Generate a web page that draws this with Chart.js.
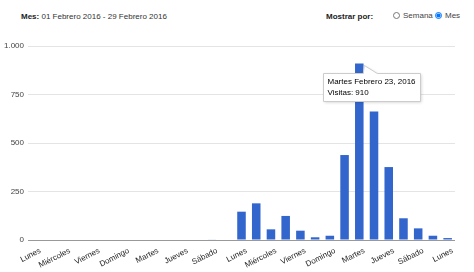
<!DOCTYPE html>
<html>
<head>
<meta charset="utf-8">
<script src="https://cdn.jsdelivr.net/npm/chart.js@4/dist/chart.umd.min.js"></script>
<style>
  body { margin: 0; width: 474px; height: 272px; background: #fff; font-family: 'Liberation Sans', Arial, sans-serif; overflow: hidden; }
  .head { position: absolute; top: 12px; font-size: 8px; color: #333; white-space: nowrap; }
  .head b { color: #222; }
  .radio { position: absolute; top: 11px; font-size: 8px; color: #444; display: flex; align-items: center; white-space: nowrap; }
  .radio input { width: 7px; height: 7px; margin: 0 3px 0 0; }
  #wrap { position: absolute; left: 0; top: 30px; width: 474px; height: 242px; }
</style>
</head>
<body>
<div class="head" style="left:21px"><b>Mes:</b> 01 Febrero 2016 - 29 Febrero 2016</div>
<div class="head" style="left:326px"><b>Mostrar por:</b></div>
<div class="radio" style="left:393px"><input type="radio" name="p">Semana</div>
<div class="radio" style="left:435px"><input type="radio" name="p" checked>Mes</div>
<div id="wrap"><canvas id="c"></canvas></div>
<script>
'use strict';

// ── Data: February 2016, one bar per day ──
const dayNames = ['Lunes', 'Martes', 'Miércoles', 'Jueves', 'Viernes', 'Sábado', 'Domingo'];
const days = Array.from({ length: 29 }, (_, i) => i + 1);
const visits = [
  0, 0, 0, 0, 0, 0, 0, 0, 0, 0, 0, 0, 3, 0,
  146, 189, 55, 124, 48, 14, 22, 438, 910, 663, 376, 112, 60, 22, 10
];
const yTicks = [0, 250, 500, 750, 1000];
const highlightIndex = 22;

const labels = days.map((d, i) => dayNames[i % 7]);
const FONT = "'Liberation Sans', Arial, sans-serif";

// ── Google-style tooltip drawn next to the highlighted bar ──
const fixedTip = {
  id: 'fixedTip',
  afterDraw(chart) {
    const bar = chart.getDatasetMeta(0).data[highlightIndex];
    if (!bar) return;
    const ctx = chart.ctx;
    const d = days[highlightIndex];
    const line1 = dayNames[highlightIndex % 7] + ' Febrero ' + d + ', 2016';
    const line2 = 'Visitas: ' + visits[highlightIndex];
    const x = Math.round(bar.x - 36) + 0.5, y = Math.round(bar.y + 10) + 0.5, w = 97, h = 28;
    ctx.save();
    ctx.shadowColor = 'rgba(0,0,0,0.18)';
    ctx.shadowBlur = 3;
    ctx.shadowOffsetX = 1;
    ctx.shadowOffsetY = 1;
    ctx.fillStyle = '#fff';
    ctx.beginPath();
    ctx.moveTo(x, y);
    ctx.lineTo(bar.x + 4, y);
    ctx.lineTo(bar.x + 5, bar.y + 2);
    ctx.lineTo(bar.x + 18, y);
    ctx.lineTo(x + w, y);
    ctx.lineTo(x + w, y + h);
    ctx.lineTo(x, y + h);
    ctx.closePath();
    ctx.fill();
    ctx.shadowColor = 'transparent';
    ctx.strokeStyle = '#cccccc';
    ctx.lineWidth = 1;
    ctx.stroke();
    ctx.fillStyle = '#000';
    ctx.font = '8px ' + FONT;
    ctx.textBaseline = 'middle';
    ctx.fillText(line1, x + 4, y + 8);
    ctx.fillText(line2, x + 4, y + 19);
    ctx.restore();
  }
};

new Chart(document.getElementById('c'), {
  type: 'bar',
  data: {
    labels: labels,
    datasets: [{
      label: 'Visitas',
      data: visits,
      backgroundColor: '#3366cc',
      categoryPercentage: 1,
      barPercentage: 0.58,
    }],
  },
  options: {
    responsive: true, maintainAspectRatio: false,
    animation: false,
    layout: { padding: { top: 16, right: 19, left: 0, bottom: 0 } },
    plugins: { legend: { display: false }, tooltip: { enabled: false } },
    scales: {
      x: {
        grid: { display: false },
        border: { display: false },
        afterFit: (s) => { s.height = 32; },
        ticks: {
          autoSkip: false,
          maxRotation: 27, minRotation: 27,
          padding: -2,
          labelOffset: 5,
          color: '#222',
          font: { family: FONT, size: 8 },
          callback: (v, i) => (i % 2 === 0 ? labels[i] : ''),
        },
      },
      y: {
        min: 0, max: 1000,
        afterFit: (s) => { s.width = 28; },
        afterBuildTicks: (s) => { s.ticks = yTicks.map(v => ({ value: v })); },
        border: { display: false },
        grid: {
          drawTicks: false,
          color: (c) => (c.tick && c.tick.value === 0 ? '#999' : '#e4e4e4'),
        },
        ticks: {
          padding: 4,
          color: '#444',
          font: { family: FONT, size: 8 },
          callback: (v) => v.toLocaleString('es-ES', { useGrouping: 'always' }).replace(/\s/g, '.'),
        },
      },
    },
  },
  plugins: [fixedTip],
});
</script>
</body>
</html>
